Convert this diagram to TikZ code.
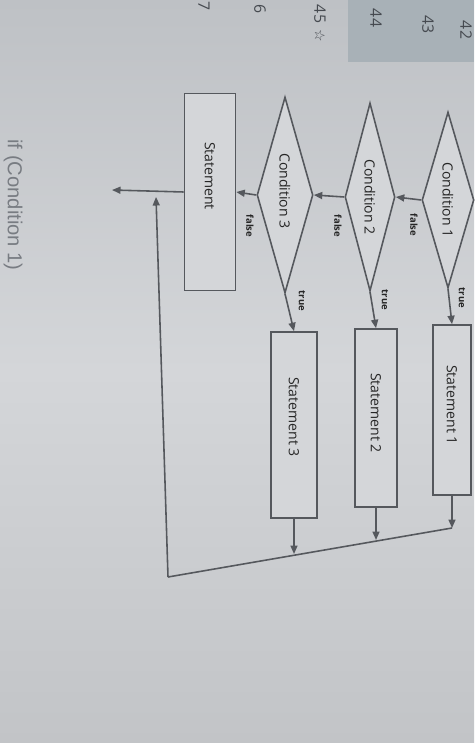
\documentclass[tikz,border=0pt]{standalone}
\usepackage{fontspec}
\setmainfont{Open Sans}
\newfontfamily\arialf{Liberation Sans}
\newfontfamily\symf{DejaVu Sans}
\usetikzlibrary{shapes.geometric,arrows.meta}
\definecolor{linec}{RGB}{85,88,93}
\definecolor{boxc}{RGB}{212,214,217}
\definecolor{bgtop}{RGB}{190,193,197}
\definecolor{bgmid}{RGB}{212,214,217}
\definecolor{bgbot}{RGB}{194,196,199}
\definecolor{bluec}{RGB}{168,177,183}
\definecolor{numc}{RGB}{70,74,80}
\definecolor{ifc}{RGB}{120,124,130}
\tikzset{
  condbox/.style={diamond, draw=linec, fill=boxc, line width=0.9pt, inner sep=0pt},
  stbox/.style={rectangle, draw=linec, fill=boxc, line width=0.9pt, inner sep=0pt},
  lbl/.style={rotate=-90, text=black!85, font=\fontsize{8}{9}\selectfont},
  tf/.style={rotate=-90, text=black!85, font=\bfseries\fontsize{5.4}{6}\selectfont},
  num/.style={rotate=-90, text=numc, font=\fontsize{9}{10}\selectfont},
  arr/.style={draw=linec, line width=0.9pt, -{Triangle[length=1.7mm,width=1.4mm]}},
  ln/.style={draw=linec, line width=0.9pt}
}
\begin{document}
\begin{tikzpicture}[x=0.02cm,y=-0.02cm]
\useasboundingbox (0,0) rectangle (474,743);
% background
\shade[top color=bgtop, bottom color=bgbot, middle color=bgmid] (0,0) rectangle (474,743);
\fill[bluec] (348,0) rectangle (474,62);
% line numbers
\node[num] (n42) at (466,30) {42};
\node[num] (n43) at (428,25) {43};
\node[num] (n44) at (376,18) {44};
\node[num] (n45) at (320,14) {45};
\node[rotate=-90, text=numc, font=\symf\fontsize{8}{9}\selectfont] (star) at (320,36) {☆};
\node[num] (n46) at (260,9) {6};
\node[num] (n47) at (204,6) {7};
\node[rotate=-90, text=ifc, font=\arialf\fontsize{11.5}{13}\selectfont] (ifc) at (13,205) {if (Condition 1)};
% condition diamonds
\node[condbox, minimum width=52*0.02cm, minimum height=176*0.02cm] (c1) at (448,200) {};
\node[condbox, minimum width=50*0.02cm, minimum height=188*0.02cm] (c2) at (370,197) {};
\node[condbox, minimum width=56*0.02cm, minimum height=196*0.02cm] (c3) at (285,195) {};
\node[lbl] (c1t) at (448,200) {Condition 1};
\node[lbl] (c2t) at (370,197) {Condition 2};
\node[lbl] (c3t) at (285,191) {Condition 3};
% statements
\node[stbox, minimum width=51*0.02cm, minimum height=197*0.02cm] (s0) at (210,192) {};
\node[lbl] (s0t) at (210,176) {Statement};
\node[stbox, minimum width=46*0.02cm, minimum height=186*0.02cm] (s3) at (294,425) {};
\node[stbox, minimum width=42*0.02cm, minimum height=178*0.02cm] (s2) at (376,418) {};
\node[stbox, minimum width=38*0.02cm, minimum height=170*0.02cm] (s1) at (452,410) {};
\node[lbl] (s3t) at (294,417) {Statement 3};
\node[lbl] (s2t) at (376,413) {Statement 2};
\node[lbl] (s1t) at (452,405) {Statement 1};
% coordinates
\coordinate (out) at (112,190);
\coordinate (bl) at (168,577);
\coordinate (lt) at (156,197);
\coordinate (m3) at (294,554);
\coordinate (m2) at (376,540);
\coordinate (m1) at (452,528);
% false arrows
\draw[arr] (c1.west) -- (c2.east);
\draw[arr] (c2.west) -- (c3.east);
\draw[arr] (c3.west) -- (s0.east);
\draw[arr] (s0.west) -- (out);
\node[tf] (f1) at (414,225) {false};
\node[tf] (f2) at (338,226) {false};
\node[tf] (f3) at (250,226) {false};
% true arrows
\draw[arr] (c1.south) -- (s1.north);
\draw[arr] (c2.south) -- (s2.north);
\draw[arr] (c3.south) -- (s3.north);
\node[tf] (t1) at (462,298) {true};
\node[tf] (t2) at (385,300) {true};
\node[tf] (t3) at (302,301) {true};
% merge
\draw[arr] (s3.south) -- (m3);
\draw[arr] (s2.south) -- (m2);
\draw[arr] (s1.south) -- (m1);
\draw[ln] (m1) -- (bl);
\draw[arr] (bl) -- (lt);
\end{tikzpicture}
\end{document}
